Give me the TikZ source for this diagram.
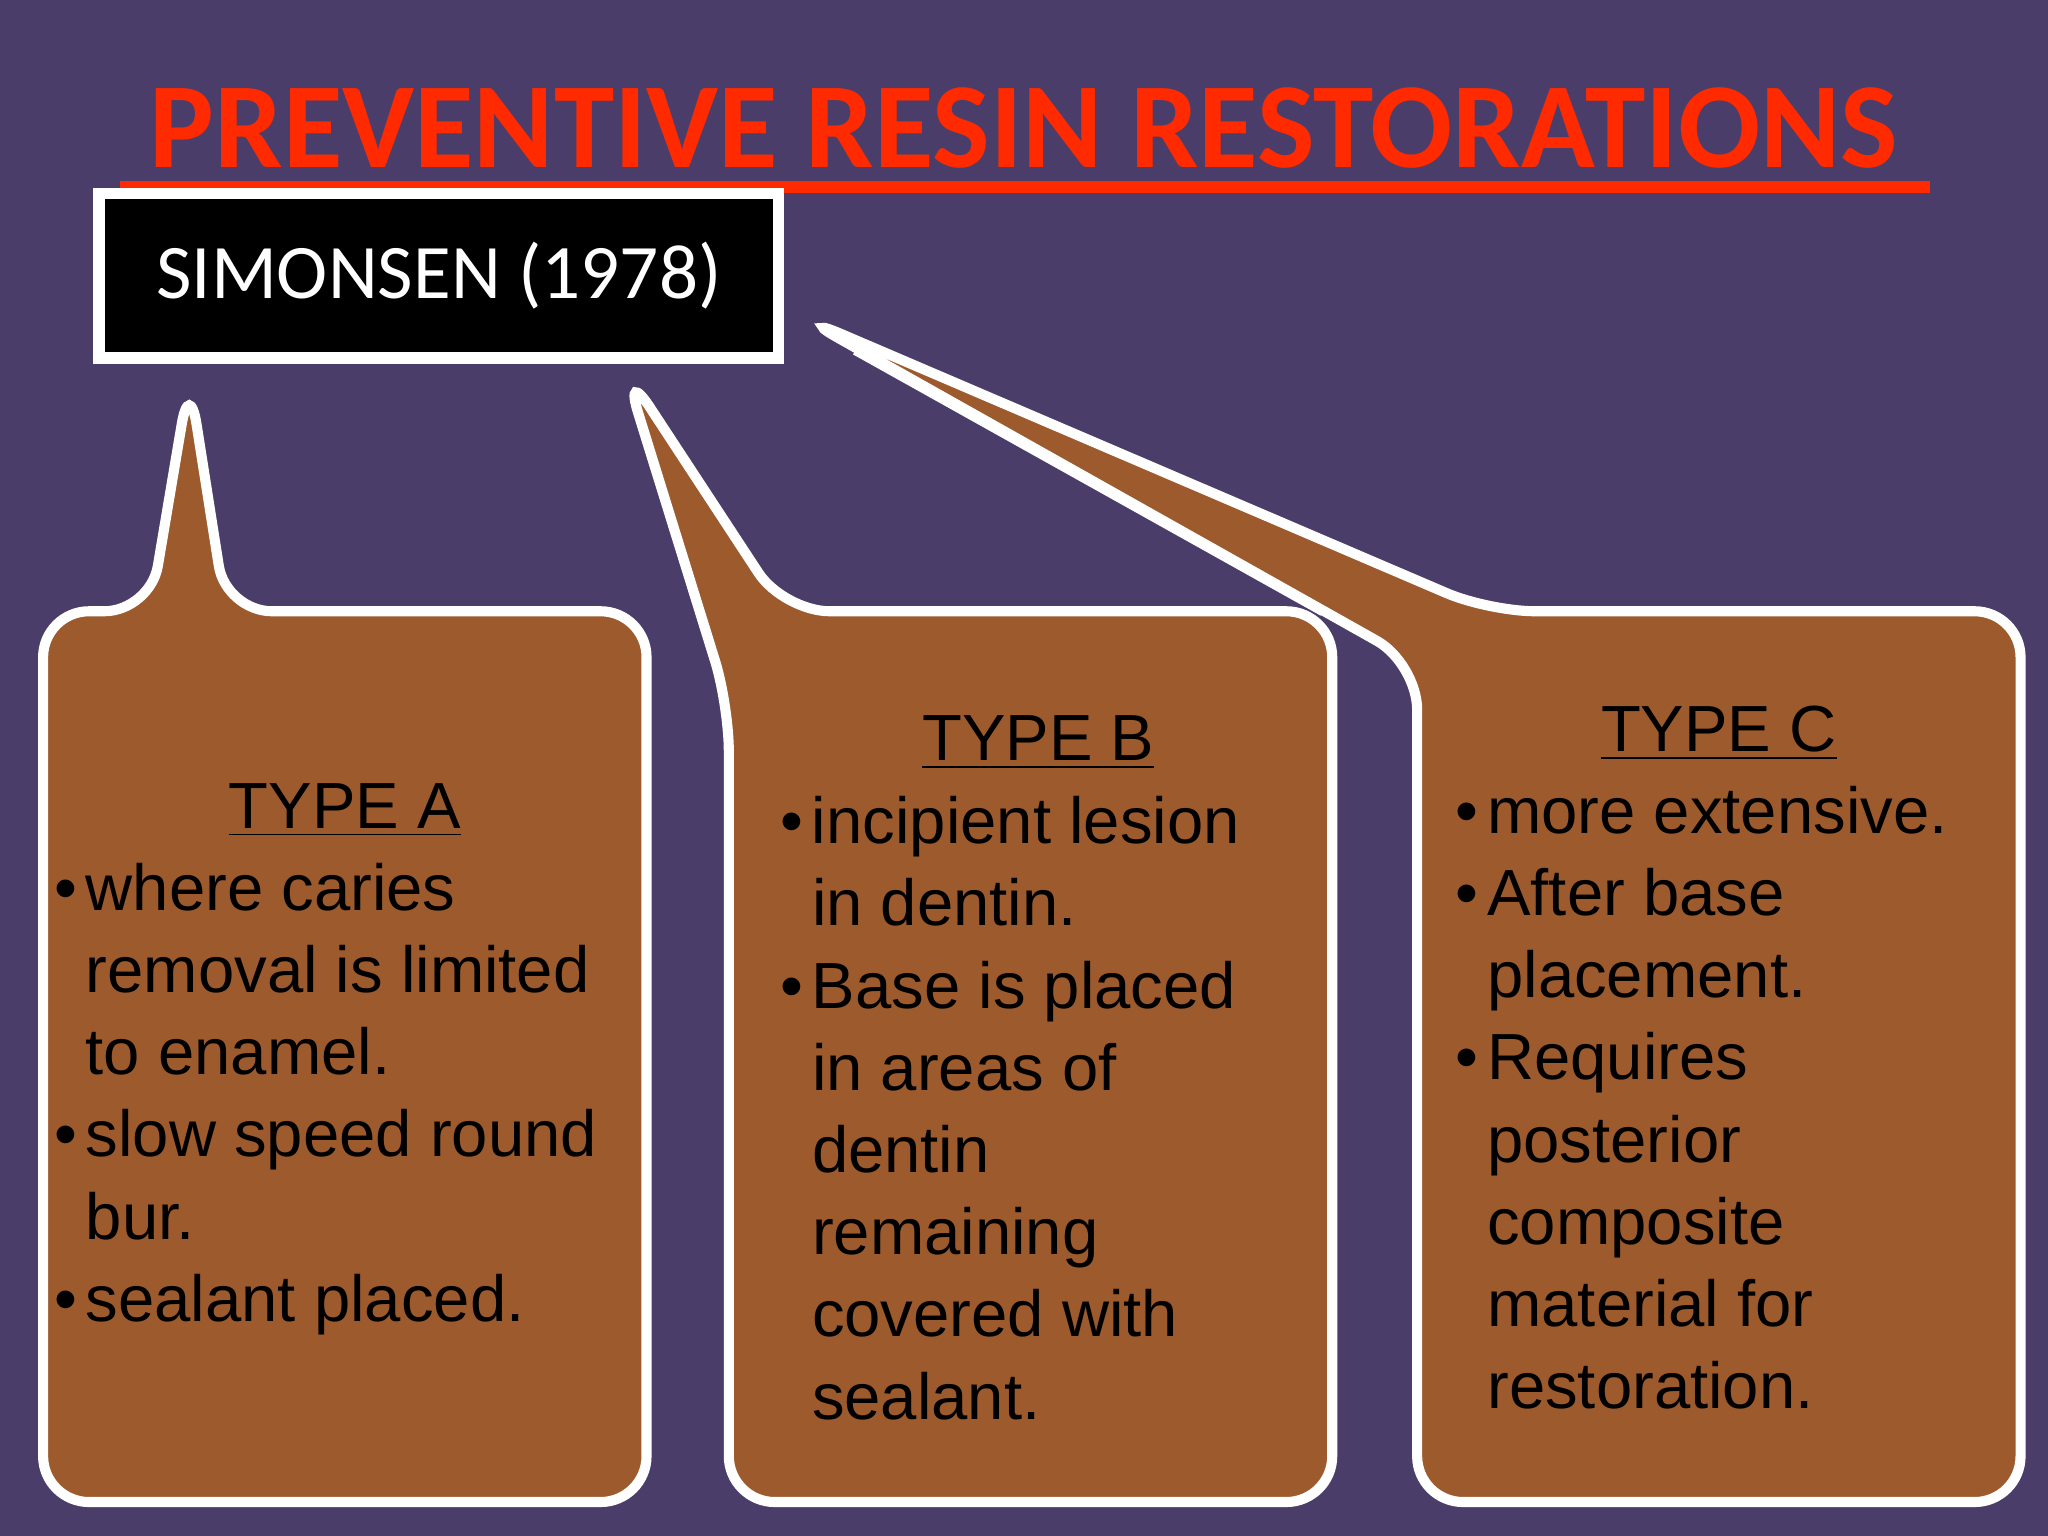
\documentclass[tikz,border=0pt]{standalone}
\usepackage{fontspec}
\setmainfont{Liberation Sans}
\newfontfamily\calib{Carlito}
\definecolor{bgp}{HTML}{4B3D69}
\definecolor{brn}{HTML}{9C5A2D}
\definecolor{ttl}{HTML}{FF2A00}
\tikzset{callout/.style={draw=white,line width=2.2pt,fill=brn,rounded corners=10pt},
  body/.style={anchor=north west,inner sep=0pt,align=left,text=black,font=\fontsize{14.2}{17.9}\selectfont},
  head/.style={anchor=base,inner sep=0pt,text=black,font=\fontsize{14.2}{17.9}\selectfont}}
\newcommand{\bl}{\makebox[0.24cm][l]{\textbullet}}
\newcommand{\ind}{\hspace*{0.24cm}}
\begin{document}
\begin{tikzpicture}[x=0.01cm,y=-0.01cm]
\useasboundingbox[fill=bgp] (0,0) rectangle (1568,1176);
% title
\node[anchor=base,inner sep=0pt,text=ttl,font=\calib\bfseries\fontsize{26.5}{30}\selectfont] (title) at (784,128) {PREVENTIVE RESIN RESTORATIONS};
\draw[ttl,line width=2.5pt] (92,143) -- (1478,143);
% simonsen box
\node[draw=white,line width=2.5pt,fill=black,minimum width=5.2cm,minimum height=1.26cm,inner sep=0pt,font=\calib\fontsize{16.8}{20}\selectfont,text=white] (sim) at (336,211) {SIMONSEN (1978)};
% callout C (behind)
\draw[callout] (1085,1150) -- (1085,508) -- (612,242) -- (1140,468)[rounded corners=10pt] -- (1547,468) -- (1547,1150) -- cycle;
% callout B
\draw[callout] (558,1150) -- (558,540) -- (478,282) -- (600,468) -- (1020,468) -- (1020,1150) -- cycle;
\draw[white,line width=2.2pt] (655,268) -- (1013,468);
% callout A
\draw[callout] (33,1150) -- (33,468) -- (115,468) -- (145,290) -- (173,468) -- (495,468) -- (495,1150) -- cycle;
% texts
\node[head] (ta) at (264,634) {\underline{TYPE A}};
\node[body] (a) at (41,660) {\bl where caries\\\ind removal is limited\\\ind to enamel.\\\bl slow speed round\\\ind bur.\\\bl sealant placed.};
\node[head] (tb) at (795,582) {\underline{TYPE B}};
\node[body] (b) at (597,609) {\bl incipient lesion\\\ind in dentin.\\\bl Base is placed\\\ind in areas of\\\ind dentin\\\ind remaining\\\ind covered with\\\ind sealant.};
\node[head] (tc) at (1316,575) {\underline{TYPE C}};
\node[body] (c) at (1114,601) {\bl more extensive.\\\bl After base\\\ind placement.\\\bl Requires\\\ind posterior\\\ind composite\\\ind material for\\\ind restoration.};
\end{tikzpicture}
\end{document}
